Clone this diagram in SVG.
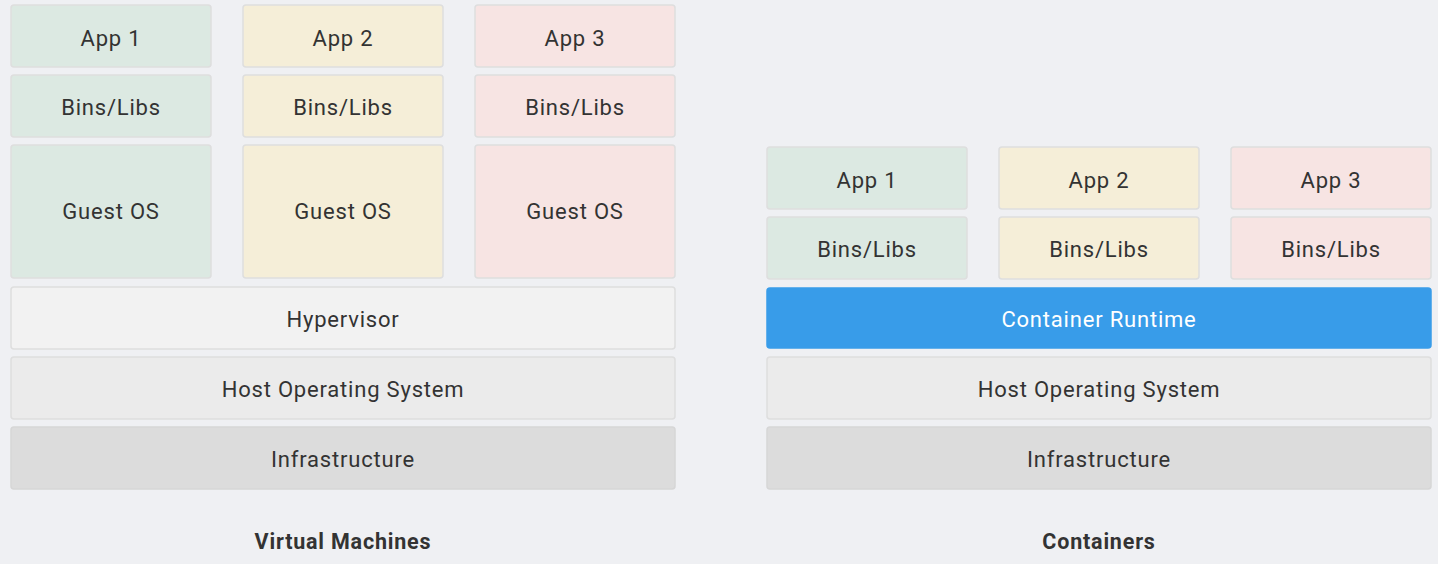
<svg xmlns="http://www.w3.org/2000/svg" width="1438" height="564" viewBox="0 0 1438 564">
<style>
rect{stroke:#dedede;stroke-width:1.5}
text{font-family:Roboto,"Liberation Sans",sans-serif;font-size:22px;letter-spacing:0.8px;fill:#333;text-anchor:middle;dominant-baseline:central}
.g{fill:#dce9e2}.y{fill:#f5eed8}.p{fill:#f7e4e3}.hv{fill:#f2f2f2}.ho{fill:#ebebeb}.in{fill:#dcdcdc;stroke:#d6d6d6}
.bl{fill:#389ce9;stroke:#389ce9}.t{font-weight:bold;font-size:21.5px}
</style>
<rect x="0" y="0" width="1438" height="564" fill="#eff0f3" style="stroke:none"/>
<g id="vm1-app"><rect class="g" x="11" y="5" width="200" height="62" rx="3"/><text x="111" y="38">App 1</text></g>
<g id="vm2-app"><rect class="y" x="243" y="5" width="200" height="62" rx="3"/><text x="343" y="38">App 2</text></g>
<g id="vm3-app"><rect class="p" x="475" y="5" width="200" height="62" rx="3"/><text x="575" y="38">App 3</text></g>
<g id="vm1-bins"><rect class="g" x="11" y="75" width="200" height="62" rx="3"/><text x="111" y="107">Bins/Libs</text></g>
<g id="vm2-bins"><rect class="y" x="243" y="75" width="200" height="62" rx="3"/><text x="343" y="107">Bins/Libs</text></g>
<g id="vm3-bins"><rect class="p" x="475" y="75" width="200" height="62" rx="3"/><text x="575" y="107">Bins/Libs</text></g>
<g id="vm1-os"><rect class="g" x="11" y="145" width="200" height="133" rx="3"/><text x="111" y="211">Guest OS</text></g>
<g id="vm2-os"><rect class="y" x="243" y="145" width="200" height="133" rx="3"/><text x="343" y="211">Guest OS</text></g>
<g id="vm3-os"><rect class="p" x="475" y="145" width="200" height="133" rx="3"/><text x="575" y="211">Guest OS</text></g>
<g id="hypervisor"><rect class="hv" x="11" y="287" width="664" height="62" rx="3"/><text x="343" y="319">Hypervisor</text></g>
<g id="vm-host"><rect class="ho" x="11" y="357" width="664" height="62" rx="3"/><text x="343" y="389">Host Operating System</text></g>
<g id="vm-infra"><rect class="in" x="11" y="427" width="664" height="62" rx="3"/><text x="343" y="459">Infrastructure</text></g>
<g id="vm-label"><text class="t" x="343" y="541">Virtual Machines</text></g>

<g id="c1-app"><rect class="g" x="767" y="147" width="200" height="62" rx="3"/><text x="867" y="180">App 1</text></g>
<g id="c2-app"><rect class="y" x="999" y="147" width="200" height="62" rx="3"/><text x="1099" y="180">App 2</text></g>
<g id="c3-app"><rect class="p" x="1231" y="147" width="200" height="62" rx="3"/><text x="1331" y="180">App 3</text></g>
<g id="c1-bins"><rect class="g" x="767" y="217" width="200" height="62" rx="3"/><text x="867" y="249">Bins/Libs</text></g>
<g id="c2-bins"><rect class="y" x="999" y="217" width="200" height="62" rx="3"/><text x="1099" y="249">Bins/Libs</text></g>
<g id="c3-bins"><rect class="p" x="1231" y="217" width="200" height="62" rx="3"/><text x="1331" y="249">Bins/Libs</text></g>
<g id="runtime"><rect class="bl" x="767" y="288" width="664" height="60" rx="3"/><text x="1099" y="319" style="fill:#fff">Container Runtime</text></g>
<g id="c-host"><rect class="ho" x="767" y="357" width="664" height="62" rx="3"/><text x="1099" y="389">Host Operating System</text></g>
<g id="c-infra"><rect class="in" x="767" y="427" width="664" height="62" rx="3"/><text x="1099" y="459">Infrastructure</text></g>
<g id="c-label"><text class="t" x="1099" y="541">Containers</text></g>
<g id="connectors"/>
</svg>
